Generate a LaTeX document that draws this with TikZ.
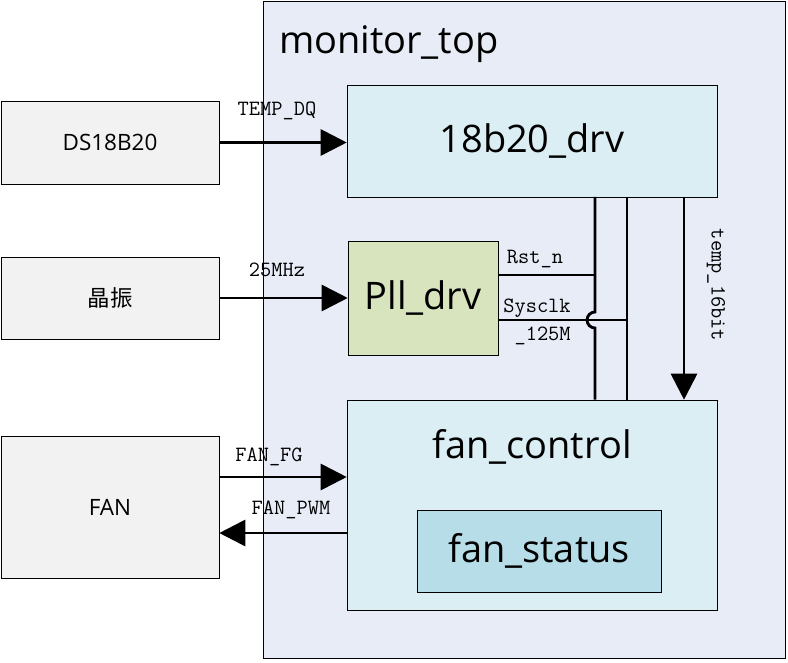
\documentclass[tikz,border=0pt]{standalone}
\usepackage{fontspec}
\setmainfont{Open Sans}
\newfontfamily\cjk{Noto Sans CJK SC}
\usepackage{tikz}
\usepackage{xcolor}
\usetikzlibrary{positioning,arrows.meta}

\definecolor{topbg}{RGB}{231,236,247}
\definecolor{drvbg}{RGB}{219,238,244}
\definecolor{pllbg}{RGB}{215,228,189}
\definecolor{statbg}{RGB}{183,222,232}
\definecolor{extbg}{RGB}{242,242,242}

\begin{document}
\begin{tikzpicture}[
        ext/.style={rectangle, draw=black, fill=extbg, minimum width=5.45cm, font=\fontsize{16}{18}\selectfont},
        mod/.style={rectangle, draw=black, fill=drvbg, minimum width=9.25cm, font=\fontsize{27}{31}\selectfont},
        sig/.style={line width=2pt, -{Triangle[length=6.5mm, width=6.5mm]}},
        wire/.style={line width=2pt},
        lbl/.style={font=\ttfamily\fontsize{15.5}{19.5}\selectfont}
    ]
        \useasboundingbox (0,0) rectangle (19.7,-16.55);

        % Top level
        \draw[fill=topbg] (6.575,-0.025) rectangle (19.625,-16.45);
        \node[font=\fontsize{27}{31}\selectfont] (title) at (9.72,-1.1) {monitor\_top};

        % External parts
        \node[ext, minimum height=2.075cm] (ds) at (2.75,-3.5625) {DS18B20};
        \node[ext, minimum height=2.05cm, font=\cjk\fontsize{16}{18}\selectfont] (osc) at (2.75,-7.45) {晶振};
        \node[ext, minimum height=3.55cm] (fan) at (2.75,-12.675) {FAN};

        % Modules
        \node[mod, minimum height=2.8cm] (drv) at (13.3,-3.525) {18b20\_drv};
        \node[mod, fill=pllbg, minimum width=3.75cm, minimum height=2.85cm] (pll) at (10.575,-7.45) {Pll\_drv};
        \node[mod, minimum height=5.25cm] (ctrl) at (13.3,-12.625) {};
        \node[font=\fontsize{27}{31}\selectfont] (ctrltxt) at (13.3,-11.175) {fan\_control};
        \node[mod, fill=statbg, minimum width=6.1cm, minimum height=2.05cm] (stat) at (13.475,-13.775) {fan\_status};

        % Inputs and outputs
        \draw[sig] (ds.east) -- (drv.west |- ds.east);
        \node[lbl] (dqlbl) at (6.925,-2.775) {TEMP\_DQ};
        \draw[sig] (osc.east) -- (pll.west);
        \node[lbl] (mhzlbl) at (6.925,-6.75) {25MHz};
        \coordinate (fg) at (5.475,-11.925);
        \draw[sig] (fg) -- (fg -| ctrl.west);
        \node[lbl] (fglbl) at (6.725,-11.425) {FAN\_FG};
        \coordinate (pwm) at (8.675,-13.325);
        \draw[sig] (pwm) -- (pwm -| fan.east);
        \node[lbl] (pwmlbl) at (7.275,-12.75) {FAN\_PWM};

        % Reset and clock
        \coordinate (rsttop) at (14.875,-4.925);
        \coordinate (clktop) at (15.675,-4.925);
        \coordinate (rst) at (12.45,-6.875);
        \coordinate (clk) at (12.45,-8);
        \draw[wire] (rst) -- (rst -| rsttop);
        \draw[wire] (clk) -- (clk -| clktop);
        \draw[wire] (rsttop) -- (14.875,-7.8) arc[start angle=90, end angle=270, radius=0.2cm] -- (rsttop |- ctrl.north);
        \draw[wire] (clktop) -- (clktop |- ctrl.north);
        \node[lbl] (rstlbl) at (13.375,-6.475) {Rst\_n};
        \node[lbl, align=left] (clklbl) at (13.425,-8.05) {Sysclk\\\ \_125M};

        % Temperature
        \coordinate (temp) at (17.1,-4.925);
        \draw[sig] (temp) -- (temp |- ctrl.north);
        \node[lbl, rotate=-90] (templbl) at (17.9,-7.125) {temp\_16bit};
    \end{tikzpicture}
\end{document}
